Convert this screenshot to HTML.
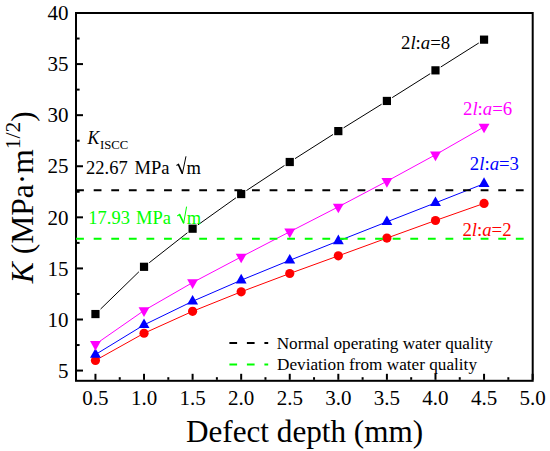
<!DOCTYPE html>
<html><head><meta charset="utf-8"><style>
html,body{margin:0;padding:0;background:#fff;width:550px;height:451px;overflow:hidden;font-family:"Liberation Serif",serif;}
svg{display:block;}
</style></head><body>
<svg width="550" height="451" viewBox="0 0 550 451">
<rect width="550" height="451" fill="#fff"/>
<g stroke="#ff0000" stroke-width="1.0"><line x1="95.45" y1="360.40" x2="144.03" y2="333.25"/><line x1="144.03" y1="333.25" x2="192.60" y2="311.30"/><line x1="192.60" y1="311.30" x2="241.18" y2="291.80"/><line x1="241.18" y1="291.80" x2="289.75" y2="273.50"/><line x1="289.75" y1="273.50" x2="338.32" y2="255.85"/><line x1="338.32" y1="255.85" x2="386.90" y2="238.10"/><line x1="386.90" y1="238.10" x2="435.48" y2="220.50"/><line x1="435.48" y1="220.50" x2="484.05" y2="203.40"/></g>
<g stroke="#0000ff" stroke-width="1.0"><line x1="95.45" y1="354.55" x2="144.03" y2="324.90"/><line x1="144.03" y1="324.90" x2="192.60" y2="301.30"/><line x1="192.60" y1="301.30" x2="241.18" y2="280.20"/><line x1="241.18" y1="280.20" x2="289.75" y2="260.30"/><line x1="289.75" y1="260.30" x2="338.32" y2="241.00"/><line x1="338.32" y1="241.00" x2="386.90" y2="221.85"/><line x1="386.90" y1="221.85" x2="435.48" y2="202.85"/><line x1="435.48" y1="202.85" x2="484.05" y2="183.70"/></g>
<g stroke="#ff00ff" stroke-width="1.0"><line x1="95.45" y1="344.30" x2="144.03" y2="310.50"/><line x1="144.03" y1="310.50" x2="192.60" y2="282.55"/><line x1="192.60" y1="282.55" x2="241.18" y2="256.90"/><line x1="241.18" y1="256.90" x2="289.75" y2="231.75"/><line x1="289.75" y1="231.75" x2="338.32" y2="206.85"/><line x1="338.32" y1="206.85" x2="386.90" y2="181.25"/><line x1="386.90" y1="181.25" x2="435.48" y2="154.75"/><line x1="435.48" y1="154.75" x2="484.05" y2="126.95"/></g>
<g stroke="#000" stroke-width="1.0"><line x1="100.55" y1="309.09" x2="138.92" y2="271.76"/><line x1="149.23" y1="262.72" x2="187.40" y2="232.78"/><line x1="197.84" y1="224.96" x2="235.94" y2="197.79"/><line x1="246.44" y1="190.57" x2="284.48" y2="165.48"/><line x1="295.03" y1="158.64" x2="333.04" y2="134.46"/><line x1="343.61" y1="127.82" x2="381.61" y2="104.23"/><line x1="392.18" y1="97.62" x2="430.19" y2="73.68"/><line x1="440.76" y1="67.01" x2="478.77" y2="42.99"/></g>
<g fill="#ff0000"><circle cx="95.45" cy="360.40" r="4.6"/><circle cx="144.03" cy="333.25" r="4.6"/><circle cx="192.60" cy="311.30" r="4.6"/><circle cx="241.18" cy="291.80" r="4.6"/><circle cx="289.75" cy="273.50" r="4.6"/><circle cx="338.32" cy="255.85" r="4.6"/><circle cx="386.90" cy="238.10" r="4.6"/><circle cx="435.48" cy="220.50" r="4.6"/><circle cx="484.05" cy="203.40" r="4.6"/></g>
<g fill="#0000ff"><path d="M95.45,348.15L100.90,357.75L90.00,357.75Z"/><path d="M144.03,318.50L149.47,328.10L138.58,328.10Z"/><path d="M192.60,294.90L198.05,304.50L187.15,304.50Z"/><path d="M241.18,273.80L246.62,283.40L235.73,283.40Z"/><path d="M289.75,253.90L295.20,263.50L284.30,263.50Z"/><path d="M338.32,234.60L343.77,244.20L332.88,244.20Z"/><path d="M386.90,215.45L392.35,225.05L381.45,225.05Z"/><path d="M435.48,196.45L440.93,206.05L430.03,206.05Z"/><path d="M484.05,177.30L489.50,186.90L478.60,186.90Z"/></g>
<g fill="#ff00ff"><path d="M95.45,350.70L100.90,341.10L90.00,341.10Z"/><path d="M144.03,316.90L149.47,307.30L138.58,307.30Z"/><path d="M192.60,288.95L198.05,279.35L187.15,279.35Z"/><path d="M241.18,263.30L246.62,253.70L235.73,253.70Z"/><path d="M289.75,238.15L295.20,228.55L284.30,228.55Z"/><path d="M338.32,213.25L343.77,203.65L332.88,203.65Z"/><path d="M386.90,187.65L392.35,178.05L381.45,178.05Z"/><path d="M435.48,161.15L440.93,151.55L430.03,151.55Z"/><path d="M484.05,133.35L489.50,123.75L478.60,123.75Z"/></g>
<g fill="#000"><rect x="91.35" y="309.95" width="8.2" height="8.2"/><rect x="139.93" y="262.70" width="8.2" height="8.2"/><rect x="188.50" y="224.60" width="8.2" height="8.2"/><rect x="237.08" y="189.95" width="8.2" height="8.2"/><rect x="285.65" y="157.90" width="8.2" height="8.2"/><rect x="334.22" y="127.00" width="8.2" height="8.2"/><rect x="382.80" y="96.85" width="8.2" height="8.2"/><rect x="431.38" y="66.25" width="8.2" height="8.2"/><rect x="479.95" y="35.55" width="8.2" height="8.2"/></g>
<g stroke="#000" stroke-width="2"><line x1="95.45" y1="379.8" x2="95.45" y2="373.80"/><line x1="119.74" y1="379.8" x2="119.74" y2="377.20"/><line x1="144.03" y1="379.8" x2="144.03" y2="373.80"/><line x1="168.31" y1="379.8" x2="168.31" y2="377.20"/><line x1="192.60" y1="379.8" x2="192.60" y2="373.80"/><line x1="216.89" y1="379.8" x2="216.89" y2="377.20"/><line x1="241.18" y1="379.8" x2="241.18" y2="373.80"/><line x1="265.46" y1="379.8" x2="265.46" y2="377.20"/><line x1="289.75" y1="379.8" x2="289.75" y2="373.80"/><line x1="314.04" y1="379.8" x2="314.04" y2="377.20"/><line x1="338.32" y1="379.8" x2="338.32" y2="373.80"/><line x1="362.61" y1="379.8" x2="362.61" y2="377.20"/><line x1="386.90" y1="379.8" x2="386.90" y2="373.80"/><line x1="411.19" y1="379.8" x2="411.19" y2="377.20"/><line x1="435.48" y1="379.8" x2="435.48" y2="373.80"/><line x1="459.76" y1="379.8" x2="459.76" y2="377.20"/><line x1="484.05" y1="379.8" x2="484.05" y2="373.80"/><line x1="508.34" y1="379.8" x2="508.34" y2="377.20"/><line x1="532.62" y1="379.8" x2="532.62" y2="373.80"/><line x1="77" y1="370.58" x2="83.00" y2="370.58"/><line x1="77" y1="345.04" x2="79.60" y2="345.04"/><line x1="77" y1="319.50" x2="83.00" y2="319.50"/><line x1="77" y1="293.96" x2="79.60" y2="293.96"/><line x1="77" y1="268.42" x2="83.00" y2="268.42"/><line x1="77" y1="242.88" x2="79.60" y2="242.88"/><line x1="77" y1="217.33" x2="83.00" y2="217.33"/><line x1="77" y1="191.79" x2="79.60" y2="191.79"/><line x1="77" y1="166.25" x2="83.00" y2="166.25"/><line x1="77" y1="140.71" x2="79.60" y2="140.71"/><line x1="77" y1="115.17" x2="83.00" y2="115.17"/><line x1="77" y1="89.62" x2="79.60" y2="89.62"/><line x1="77" y1="64.08" x2="83.00" y2="64.08"/><line x1="77" y1="38.54" x2="79.60" y2="38.54"/><line x1="77" y1="13.00" x2="83.00" y2="13.00"/></g>
<rect x="76" y="13" width="456.70" height="367.80" fill="none" stroke="#000" stroke-width="2"/>
<line x1="76.1" y1="190.3" x2="524" y2="190.3" stroke="#000" stroke-width="2" stroke-dasharray="7.8 9.79"/>
<line x1="76.1" y1="238.75" x2="524" y2="238.75" stroke="#00ff00" stroke-width="2" stroke-dasharray="7.8 9.79"/>
<g font-family="Liberation Serif" font-size="21" fill="#000"><text x="95.45" y="405.1" text-anchor="middle">0.5</text><text x="144.03" y="405.1" text-anchor="middle">1.0</text><text x="192.60" y="405.1" text-anchor="middle">1.5</text><text x="241.18" y="405.1" text-anchor="middle">2.0</text><text x="289.75" y="405.1" text-anchor="middle">2.5</text><text x="338.32" y="405.1" text-anchor="middle">3.0</text><text x="386.90" y="405.1" text-anchor="middle">3.5</text><text x="435.48" y="405.1" text-anchor="middle">4.0</text><text x="484.05" y="405.1" text-anchor="middle">4.5</text><text x="532.62" y="405.1" text-anchor="middle">5.0</text><text x="68.6" y="377.78" text-anchor="end">5</text><text x="68.6" y="326.70" text-anchor="end">10</text><text x="68.6" y="275.62" text-anchor="end">15</text><text x="68.6" y="224.53" text-anchor="end">20</text><text x="68.6" y="173.45" text-anchor="end">25</text><text x="68.6" y="122.37" text-anchor="end">30</text><text x="68.6" y="71.28" text-anchor="end">35</text><text x="68.6" y="20.20" text-anchor="end">40</text></g>
<text x="185.9" y="441.9" font-family="Liberation Serif" font-size="31.2" fill="#000">Defect depth (mm)</text>
<text transform="translate(32.7,283.2) rotate(-90)" font-family="Liberation Serif" font-size="31.5" fill="#000"><tspan font-style="italic">K</tspan> (MPa·m<tspan font-size="21.5" dy="-13">1/2</tspan><tspan dy="13">)</tspan></text>
<g font-family="Liberation Serif" font-size="18.5">
<text x="87.5" y="143.5" fill="#000"><tspan font-style="italic" font-size="17.8">K</tspan><tspan font-size="12.7" dy="5.3" dx="0.6">ISCC</tspan></text>
<g fill="#000"><text x="86.1" y="174.4">22.67</text><text x="134.6" y="174.4">MPa</text><text x="186.5" y="174.4">m</text></g><g stroke="#000" fill="none" stroke-linecap="round"><line x1="176.8" y1="165.2" x2="178.4" y2="164.5" stroke-width="1.1"/><line x1="178.4" y1="164.5" x2="182.2" y2="173.1" stroke-width="1.7"/><line x1="182.4" y1="173.5" x2="185.9" y2="156.7" stroke-width="1.0"/></g>
<g fill="#00ff00"><text x="88.3" y="223.5">17.93</text><text x="136" y="223.5">MPa</text><text x="186.8" y="223.5">m</text></g><g stroke="#00ff00" fill="none" stroke-linecap="round"><line x1="177.6" y1="215.7" x2="179.6" y2="214.6" stroke-width="1.1"/><line x1="179.6" y1="214.6" x2="183.5" y2="222.7" stroke-width="1.7"/><line x1="183.7" y1="223.0" x2="186.5" y2="207.0" stroke-width="1.0"/></g>
<text x="401" y="49" fill="#000" font-size="18.8">2<tspan font-style="italic">l</tspan>:<tspan font-style="italic">a</tspan>=8</text>
<text x="463" y="114.9" fill="#ff00ff" font-size="18.8">2<tspan font-style="italic">l</tspan>:<tspan font-style="italic">a</tspan>=6</text>
<text x="469.8" y="170" fill="#0000ff" font-size="18.8">2<tspan font-style="italic">l</tspan>:<tspan font-style="italic">a</tspan>=3</text>
<text x="462.4" y="236" fill="#ff0000" font-size="18.8">2<tspan font-style="italic">l</tspan>:<tspan font-style="italic">a</tspan>=2</text>
</g>
<line x1="229.4" y1="343.1" x2="268.2" y2="343.1" stroke="#000" stroke-width="2" stroke-dasharray="7.7 9.8"/>
<line x1="229.4" y1="364.4" x2="268.2" y2="364.4" stroke="#00ff00" stroke-width="2" stroke-dasharray="7.7 9.8"/>
<g font-family="Liberation Serif" font-size="17.2" fill="#000">
<text x="276.7" y="348.5">Normal operating water quality</text>
<text x="277" y="369.8">Deviation from water quality</text>
</g>
</svg>
</body></html>
